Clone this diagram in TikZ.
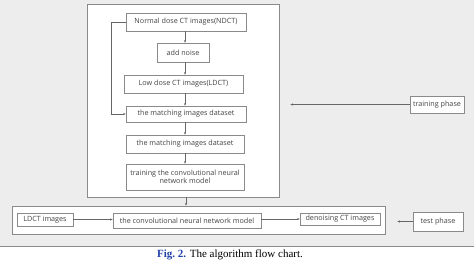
\documentclass[tikz,border=0pt]{standalone}
\usepackage{fontspec}
\setmainfont{Liberation Serif}
\newfontfamily\flowfont{Open Sans}
\usepackage{xcolor}
\definecolor{figbg}{HTML}{EDEDED}
\definecolor{boxln}{HTML}{8A8A8A}
\definecolor{figtxt}{HTML}{444444}
\definecolor{figblue}{HTML}{1F3FA8}
\usetikzlibrary{arrows.meta,positioning}

\tikzset{
  stepbox/.style={draw=boxln,fill=white,line width=0.6pt,inner sep=1pt,
    font=\flowfont\fontsize{7.2}{8.6}\selectfont,text=figtxt},
  phasebox/.style={stepbox,line width=0.7pt},
  framebox/.style={draw=boxln,fill=white,line width=0.8pt},
  arr/.style={draw=black!60,line width=0.5pt,-{Stealth[length=2.6pt,width=2.2pt]}}
}

\begin{document}
\begin{tikzpicture}[x=1pt,y=-1pt]
\useasboundingbox (0,0) rectangle (474,261);
% background of the figure
\fill[figbg] (0,0) rectangle (474,246);
\draw[black!45,line width=0.6pt] (0,246) -- (474,246);

% frames of the two phases
\node[framebox,minimum width=192pt,minimum height=193pt] (trainframe) at (183,100.5) {};
\node[framebox,minimum width=373pt,minimum height=28pt] (testframe) at (198.5,220) {};

% training phase
\node[stepbox,minimum width=120pt,minimum height=18pt] (ndct) at (186,22) {Normal dose CT images(NDCT)};
\node[stepbox,minimum width=52pt,minimum height=19pt] (noise) at (183,52.5) {add noise};
\node[stepbox,minimum width=119pt,minimum height=18pt] (ldct) at (183.5,84) {Low dose CT images(LDCT)};
\node[stepbox,minimum width=120pt,minimum height=16pt] (match1) at (186,114) {the matching images dataset};
\node[stepbox,minimum width=118pt,minimum height=18pt] (match2) at (185,144) {the matching images dataset};
\node[stepbox,minimum width=118pt,minimum height=26pt,align=center] (train) at (185,177)
  {training the convolutional neural\\network model};

\draw[arr] (ndct.south -| 185,0) -- (noise.north -| 185,0);
\draw[arr] (noise.south -| 185,0) -- (ldct.north -| 185,0);
\draw[arr] (ldct.south -| 185,0) -- (match1.north -| 185,0);
\draw[arr] (match1.south -| 185,0) -- (match2.north -| 185,0);
\draw[arr] (match2.south -| 185,0) -- (train.north -| 185,0);
\draw[arr] (ndct.west) -- ++(-14,0) |- (match1.west);

% test phase
\node[stepbox,minimum width=56pt,minimum height=13pt] (ldctimg) at (45,219.5) {LDCT images};
\node[stepbox,minimum width=148pt,minimum height=15pt] (cnn) at (187,220.5) {the convolutional neural network model};
\node[stepbox,minimum width=80pt,minimum height=12pt] (denoise) at (340,219) {denoising CT images};

\draw[arr] (ldctimg.east) -- (ldctimg.east -| cnn.west);
\draw[arr] (cnn.east |- denoise.west) -- (denoise.west);
\draw[arr] (trainframe.south -| 186,0) -- (testframe.north -| 186,0);

% phase labels
\node[phasebox,minimum width=54pt,minimum height=17pt] (trainphase) at (437,104.5) {training phase};
\node[phasebox,minimum width=50pt,minimum height=19pt] (testphase) at (438,221.5) {test phase};
\draw[arr,shorten >=11pt] (trainphase.west) -- (trainphase.west -| trainframe.east);
\draw[arr,shorten >=12pt] (testphase.west) -- (testphase.west -| testframe.east);

% caption
\node[font=\fontsize{11}{13}\selectfont] (caption) at (230,254.5)
  {{\color{figblue}\bfseries Fig.~2.} The algorithm flow chart.};
\end{tikzpicture}
\end{document}
